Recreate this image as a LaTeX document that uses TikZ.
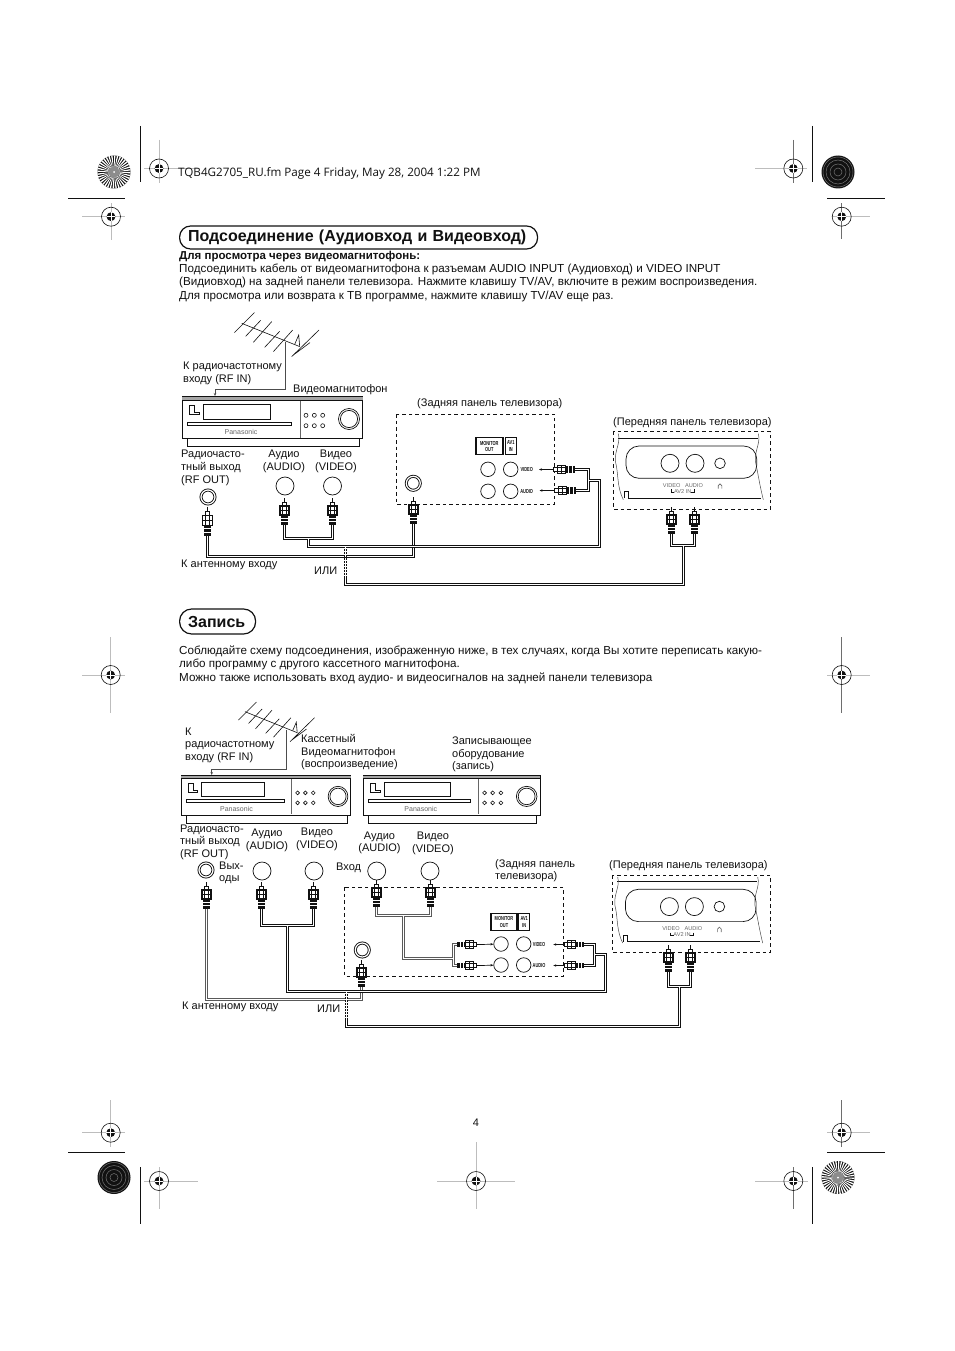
\documentclass[tikz,border=0pt]{standalone}
\usepackage{fontspec}
\setmainfont{Liberation Sans}
\newfontfamily\hdrfont{Open Sans}
\definecolor{cross}{HTML}{BDBDBD}
\definecolor{crossdk}{HTML}{6E6E6E}
\definecolor{ink}{HTML}{111111}
\definecolor{inksub}{HTML}{666666}
\usetikzlibrary{arrows.meta,positioning,calc}

\newcommand{\cond}[1]{\scalebox{.68}[1]{#1}}
\newcommand{\regmark}[7][cross]{%
  \draw[cross,line width=1pt] (#4,#3)--(#5,#3);
  \draw[#1,line width=1pt] (#2,#6)--(#2,#7);
  \draw[ink,line width=.6pt] (#2,#3) circle (9.5);
  \fill[ink] (#2,#3) circle (4.4);
  \draw[white,line width=.7pt] ($(#2,#3)+(-4.4,0)$)--($(#2,#3)+(4.4,0)$)
    ($(#2,#3)+(0,-4.4)$)--($(#2,#3)+(0,4.4)$);
}
\newcommand{\lightburst}[2]{%
  \fill[ink] (#1,#2) circle (16.5);
  \foreach \a in {0,10,...,350}
    \fill[white] (#1,#2)--++(\a:16.5)--($(#1,#2)+(\a+5:16.5)$)--cycle;
  \fill[black!45] (#1,#2) circle (5.5);
  \fill[white] (#1,#2) circle (1);
}
\newcommand{\darkburst}[2]{%
  \fill[ink] (#1,#2) circle (16.5);
  \foreach \r in {4,8,12,15}
    \draw[black!55,line width=.5pt] (#1,#2) circle (\r);
}

\tikzset{
  rcaplug/.pic={
    \coordinate (-tip) at (0,0);
    \coordinate (-end) at (0,27);
    \draw[ink,line width=1.3pt] (0,0)--(0,4);
    \draw[ink,line width=1pt,fill=white] (-2.2,4) rectangle (2.2,8);
    \draw[ink,line width=1.2pt,fill=white] (-4.5,8) rectangle (4.5,17);
    \draw[ink,line width=1pt] (-1.8,8)--(-1.8,17) (1.8,8)--(1.8,17) (-4.5,12.5)--(4.5,12.5);
    \fill[ink] (-3.5,17) rectangle (3.5,27);
    \draw[white,line width=.7pt] (-3.5,20)--(3.5,20) (-3.5,23.5)--(3.5,23.5);
  },
  vcrunit/.pic={
    \draw[ink,line width=.8pt] (0,0) rectangle (180.4,41.6);
    \fill[black!35] (0,.6) rectangle (180.4,3.6);
    \draw[ink,line width=.7pt] (0,4) -- (180.4,4);
    \draw[ink,line width=.8pt] (5,41.6) rectangle (177,50);
    \draw[black!60,line width=1pt] (117.7,4)--(117.7,41);
    \draw[ink,line width=.7pt] (21,7.6) rectangle (88.4,22.6);
    \draw[ink,line width=.7pt] (5,25.6) rectangle (109.4,29);
    \draw[ink,line width=.7pt] (7,9)--(7,18)--(17,18)--(17,15.5)--(12.5,15.5)--(12.5,9)--cycle;
    \foreach \cx in {123.7,132,140.4} \foreach \cy in {18.6,29}
      \draw[ink,line width=.6pt] (\cx,\cy) circle (2);
    \draw[ink,line width=.7pt] (166.7,22.3) circle (10.5) (166.7,22.3) circle (8.6);
    \node[inksub,inner sep=0pt,font=\fontsize{7}{8}\selectfont] (-brand) at (58.7,35) {Panasonic};
  },
  frontpanel/.pic={
    \draw[ink,line width=.8pt,dash pattern=on 3.5pt off 3pt] (0,0) rectangle (157.4,77.3);
    \draw[ink,line width=.7pt] (4.7,6.6)--(144.7,6.6) (15,66.6)--(147.4,66.6);
    \draw[ink,line width=.7pt] (15,66.6)--(15,60)--(11,60)--(11,66.6);
    \draw[black!70,line width=.5pt] (5,2) .. controls (8,12) and (-1,22) .. (3,34)
      .. controls (5,44) and (4,56) .. (10,68);
    \draw[black!70,line width=.5pt] (145,2) .. controls (148,12) and (139,22) .. (143,34)
      .. controls (145,44) and (147,56) .. (150,68);
    \draw[ink,line width=.7pt,rounded corners=13pt] (12.7,14.3) rectangle (143.4,46.6);
    \draw[ink,line width=.7pt] (56.7,31.6) circle (9) (81.7,31.6) circle (9) (106.7,31.6) circle (5.3);
    \node[inksub,inner sep=0pt,font=\fontsize{5.6}{6}\selectfont] (-vid) at (58.4,54) {VIDEO};
    \node[inksub,inner sep=0pt,font=\fontsize{5.6}{6}\selectfont] (-aud) at (80.7,54) {AUDIO};
    \node[inksub,inner sep=0pt,font=\fontsize{5.6}{6}\selectfont] (-av) at (69.4,60) {AV2 IN};
    \draw[ink,line width=.6pt] (57.5,57.5)--(57.5,60.5)--(61,60.5) (81,57.5)--(81,60.5)--(77.5,60.5);
    \draw[inksub,line width=.6pt] (104.9,57)--(104.9,54) .. controls (104.9,51.5) and (108.5,51.5) .. (108.5,54)--(108.5,57);
  },
  antenna/.pic={
    \draw[ink,line width=.6pt] (0,0)--(58,23.3);
    \draw[ink,line width=.6pt] (-7.3,9.3)--(12.7,-10.7) (4,13)--(19,-3) (11.7,19)--(30,-1.7)
      (23,24)--(38,8) (31.7,28.3)--(51,6.7) (50,33.3)--(77.3,6.7) (51.7,31.7)--(68.3,19.3);
    \draw[ink,line width=.6pt] (53,21)--(57,11.7)--(58,23.3);
  },
}

\begin{document}
\begin{tikzpicture}[x=1pt,y=-1pt,
    txt/.style={anchor=west,align=left,inner sep=0pt,text=ink,yshift=-.8pt,
      font=\fontsize{11.65}{13.3}\selectfont},
    lb/.style={anchor=west,align=left,inner sep=0pt,text=ink,yshift=-1.3pt,
      font=\fontsize{11}{12.6}\selectfont},
    lc/.style={align=center,inner sep=0pt,text=ink,yshift=-1.3pt,
      font=\fontsize{11}{12.6}\selectfont},
    ttl/.style={draw=ink,line width=1.2pt,rounded corners=11pt,anchor=west,align=left,
      minimum height=23pt,inner ysep=0pt,inner xsep=8.5pt,text=ink,
      font=\fontsize{16}{18}\selectfont\bfseries},
    jack/.style={circle,draw=ink,line width=.7pt,fill=white,minimum size=18pt,inner sep=0pt},
    jacksm/.style={circle,draw=ink,line width=.7pt,fill=white,minimum size=14.5pt,inner sep=0pt},
    jackrf/.style={circle,draw=ink,line width=.9pt,double=white,double distance=1.2pt,
      minimum size=14pt,inner sep=0pt},
    cable/.style={draw=ink,line width=1pt,double=white,double distance=1pt},
    cablegr/.style={draw=black!65,line width=1pt,double=white,double distance=1pt},
    cabledash/.style={cable,dash pattern=on 2pt off 1pt},
    feed/.style={-{Stealth[length=3pt,width=2.5pt]},black!70,line width=.9pt},
    tipar/.style={-{Stealth[length=3pt,width=2.4pt]},ink,line width=.7pt},
    sock/.style={draw=ink,line width=1.4pt,fill=white,inner sep=0pt,align=center,
      minimum height=17pt,text=ink,font=\fontsize{5.8}{6.4}\selectfont\bfseries},
    tag/.style={inner sep=0pt,text=ink,font=\fontsize{5.8}{6}\selectfont\bfseries},
    dashbox/.style={draw=ink,line width=.8pt,dash pattern=on 3.5pt off 3pt},
  ]
  \fill[white] (0,0) rectangle (954,1351);
  \useasboundingbox (0,0) rectangle (954,1351);

  % printer's marks
  \lightburst{114}{172}
  \darkburst{838}{172}
  \darkburst{114}{1177.5}
  \lightburst{838}{1177.5}
  \regmark{159}{168.5}{144}{198}{140}{183}
  \regmark{111}{216.7}{82}{125}{203}{240}
  \regmark[crossdk]{793.3}{168.5}{755}{807}{140}{183}
  \regmark[crossdk]{841.7}{216.7}{832}{870}{203}{239}
  \regmark{110.7}{675}{82}{125}{637}{713}
  \regmark[crossdk]{841.7}{675}{827}{870}{637}{713}
  \regmark{110.7}{1132.7}{82}{125}{1100}{1147}
  \regmark[crossdk]{841.7}{1132.7}{827}{870}{1100}{1147}
  \regmark{159}{1181}{144}{198}{1167}{1209}
  \regmark{476}{1181}{437}{515}{1142}{1209}
  \regmark[crossdk]{793.3}{1181}{755}{808}{1167}{1209}
  \draw[ink,line width=.8pt] (140,126)--(140,182) (68,198.3)--(125,198.3)
    (812.3,126)--(812.3,182) (827,198.3)--(885,198.3)
    (140,1167)--(140,1224) (68,1152.3)--(125,1152.3)
    (812.3,1167)--(812.3,1224) (827,1152.3)--(885,1152.3);

  \node[anchor=west,inner sep=0pt,text=ink,font=\hdrfont\fontsize{11.65}{13}\selectfont] (hdr) at (178,173.5)
    {TQB4G2705\_RU.fm Page 4 Friday, May 28, 2004 1:22 PM};
  \node[inner sep=0pt,text=ink,font=\fontsize{11}{13}\selectfont] (pageno) at (476,1123) {4};

  % first section
  \node[ttl,text width=341pt] (titleA) at (179,237.5)
    {Подсоединение (Аудиовход и Видеовход)};
  \node[txt,font=\fontsize{11.5}{13.3}\selectfont\bfseries] (introB) at (179,256)
    {Для просмотра через видеомагнитофонь:};
  \node[txt] (intro) at (179,282)
    {Подсоединить кабель от видеомагнитофона к разъемам AUDIO INPUT (Аудиовход) и VIDEO INPUT\\
     (Видиовход) на задней панели телевизора. Нажмите клавишу TV/AV, включите в режим воспроизведения.\\
     Для просмотра или возврата к ТВ программе, нажмите клавишу TV/AV еще раз.};

  \pic (antA) at (241.7,323.3) {antenna};
  \coordinate (mastA) at (285.7,342);
  \coordinate (turnA) at (215,389);
  \coordinate (rfinA) at (215,396);
  \draw[feed] (mastA) |- (turnA) -- (rfinA);
  \pic (vcrA) at (182.3,396.7) {vcrunit};

  \node[lb] (lbRfinA) at (183,372) {К радиочастотному\\входу (RF IN)};
  \node[lb] (lbVcrA) at (293,388) {Видеомагнитофон};
  \node[lb] (lbBackA) at (417,402) {(Задняя панель телевизора)};
  \node[lb] (lbFrontA) at (613,421) {(Передняя панель телевизора)};
  \node[lb] (lbRfoutA) at (181,466.5) {Радиочасто-\\тный выход\\(RF OUT)};
  \node[lc] (lbAudA) at (284,460) {Аудио\\(AUDIO)};
  \node[lc] (lbVidA) at (336,460) {Видео\\(VIDEO)};
  \node[lb] (lbAntA) at (181,564) {К антенному входу};
  \node[lb] (lbOrA) at (314,569) {ИЛИ};

  \node[jackrf] (jRfA) at (208,497) {};
  \node[jack] (jAudA) at (285,486) {};
  \node[jack] (jVidA) at (332.5,486) {};
  \pic[scale=1.1] (pRfA) at (207.5,506.7) {rcaplug};
  \pic (pAudA) at (284.5,498) {rcaplug};
  \pic (pVidA) at (332.5,498) {rcaplug};

  \draw[dashbox] (396.7,414) rectangle (554.7,504.3);
  \node[jackrf] (jAntA) at (413.3,483.3) {};
  \pic (pAntA) at (413.5,497) {rcaplug};
  \node[sock,minimum width=27pt] (sMonA) at (489.3,446.2) {\cond{MONITOR}\\\cond{OUT}};
  \node[sock,minimum width=11pt] (sAvA) at (510.8,446.2) {\cond{AV1}\\\cond{IN}};
  \node[jacksm] (jB1A) at (488,469.3) {};
  \node[jacksm] (jB2A) at (510.7,469.3) {};
  \node[jacksm] (jB3A) at (488,491.3) {};
  \node[jacksm] (jB4A) at (510.7,491.3) {};
  \node[tag] (tVidA) at (526.7,469.3) {\cond{VIDEO}};
  \node[tag] (tAudA) at (526.7,491.3) {\cond{AUDIO}};
  \coordinate (arVidA) at (539,469.5);
  \coordinate (arAudA) at (539.5,490.5);
  \pic[rotate=90,scale=.93] (pBvA) at (550,469.5) {rcaplug};
  \pic[rotate=90,scale=.93] (pBaA) at (551,490.5) {rcaplug};
  \draw[tipar] (pBvA-tip)--(arVidA);
  \draw[tipar] (pBaA-tip)--(arAudA);

  \pic (frontA) at (613.3,431.7) {frontpanel};
  \pic (pFvA) at (671.5,507) {rcaplug};
  \pic (pFaA) at (694.5,507) {rcaplug};

  % cables
  \coordinate (rfA) at (300.5,556.5);
  \coordinate (busA) at (308.5,538.5);
  \coordinate (retA) at (599.5,546.5);
  \coordinate (forkA) at (588.5,480.5);
  \coordinate (busFA) at (683.5,545.5);
  \coordinate (orA) at (345.5,584.5);
  \coordinate (orUpA) at (345.5,578);
  \coordinate (orTopA) at (345.5,546.5);
  \draw[cable] (pRfA-end) |- (rfA) -| (pAntA-end);
  \draw[cable] (pAudA-end) |- (busA) -| (pVidA-end)
    (busA) |- (retA) |- (forkA) (pBvA-end) -| (forkA) |- (pBaA-end);
  \draw[cable] (pFvA-end) |- (busFA) -| (pFaA-end)
    (busFA) |- (orA) -- (orUpA);
  \draw[cabledash] (orUpA)--(orTopA);

  % second section
  \node[ttl,text width=59pt,minimum height=25pt,rounded corners=12pt] (titleB) at (179,621.5)
    {Запись};
  \node[txt] (introC) at (179,664)
    {Соблюдайте схему подсоединения, изображенную ниже, в тех случаях, когда Вы хотите переписать какую-\\
     либо программу с другого кассетного магнитофона.\\
     Можно также использовать вход аудио- и видеосигналов на задней панели телевизора};

  \pic[scale=.9] (antB) at (245,711.7) {antenna};
  \coordinate (mastB) at (286.7,730);
  \coordinate (turnB) at (211.7,769);
  \coordinate (rfinB) at (211.7,775);
  \draw[feed] (mastB) |- (turnB) -- (rfinB);
  \pic[xscale=.94,yscale=.96] (vcrB) at (181.3,775) {vcrunit};
  \pic[xscale=.98,yscale=.96] (vcrC) at (363.3,775) {vcrunit};

  \node[lb] (lbRfinB) at (185,744) {К\\радиочастотному\\входу (RF IN)};
  \node[lb] (lbVcrB) at (301,751) {Кассетный\\Видеомагнитофон\\(воспроизведение)};
  \node[lb] (lbRec) at (452,753) {Записывающее\\оборудование\\(запись)};
  \node[lb] (lbRfoutB) at (180,841) {Радиочасто-\\тный выход\\(RF OUT)};
  \node[lc] (lbAudB) at (267,839) {Аудио\\(AUDIO)};
  \node[lc] (lbVidB) at (317,838) {Видео\\(VIDEO)};
  \node[lc] (lbAudC) at (379.5,841.5) {Аудио\\(AUDIO)};
  \node[lc] (lbVidC) at (433,842) {Видео\\(VIDEO)};
  \node[lb] (lbOut) at (219,871.5) {Вых-\\оды};
  \node[lb] (lbIn) at (336,867) {Вход};
  \node[lb] (lbBackB) at (495,869.5) {(Задняя панель\\телевизора)};
  \node[lb] (lbFrontB) at (609,864) {(Передняя панель телевизора)};
  \node[lb] (lbAntB) at (182,1006) {К антенному входу};
  \node[lb] (lbOrB) at (317,1007) {ИЛИ};

  \node[jackrf] (jRfB) at (206,870) {};
  \node[jack] (jAudB) at (262,871) {};
  \node[jack] (jVidB) at (314,871) {};
  \node[jack] (jAudC) at (376.7,871) {};
  \node[jack] (jVidC) at (430,871) {};
  \pic (pRfB) at (206.5,882) {rcaplug};
  \pic (pAudB) at (261.5,882) {rcaplug};
  \pic (pVidB) at (313.5,882) {rcaplug};

  \draw[dashbox] (344.3,887.3) rectangle (563.3,976);
  \pic (pAudC) at (376.5,880) {rcaplug};
  \pic (pVidC) at (430.5,880) {rcaplug};
  \node[jackrf] (jAntB) at (362.3,950) {};
  \pic (pAntB) at (361.5,960) {rcaplug};
  \node[sock,minimum width=26pt] (sMonB) at (504,922) {\cond{MONITOR}\\\cond{OUT}};
  \node[sock,minimum width=11pt] (sAvB) at (524.2,922) {\cond{AV1}\\\cond{IN}};
  \node[jacksm] (jB1B) at (501,944) {};
  \node[jacksm] (jB2B) at (523.7,944) {};
  \node[jacksm] (jB3B) at (501,965) {};
  \node[jacksm] (jB4B) at (523.7,965) {};
  \node[tag] (tVidB) at (539,944) {\cond{VIDEO}};
  \node[tag] (tAudB) at (539,965) {\cond{AUDIO}};
  \pic[rotate=-90,scale=.85] (pLvB) at (480,944.5) {rcaplug};
  \pic[rotate=-90,scale=.85] (pLaB) at (480,965.5) {rcaplug};
  \draw[tipar] (pLvB-tip)--(jB1B);
  \draw[tipar] (pLaB-tip)--(jB3B);
  \coordinate (arVidB) at (553.3,944.5);
  \coordinate (arAudB) at (553.3,965.5);
  \pic[rotate=90,scale=.85] (pRvB) at (561,944.5) {rcaplug};
  \pic[rotate=90,scale=.85] (pRaB) at (561,965.5) {rcaplug};
  \draw[tipar] (pRvB-tip)--(arVidB);
  \draw[tipar] (pRaB-tip)--(arAudB);

  \pic (frontB) at (612.7,875) {frontpanel};
  \pic (pFvB) at (668.5,945) {rcaplug};
  \pic (pFaB) at (690.5,945) {rcaplug};

  % cables
  \coordinate (rfB) at (300.5,999.5);
  \coordinate (busB) at (287.5,925.5);
  \coordinate (retB) at (605.5,991.5);
  \coordinate (forkB) at (594.5,954.5);
  \coordinate (busC) at (403.5,915.5);
  \coordinate (forkC) at (453.5,958.5);
  \coordinate (busFB) at (679.5,986.5);
  \coordinate (orB) at (346.5,1026.5);
  \coordinate (orUpB) at (346.5,1020);
  \coordinate (orTopB) at (346.5,992);
  \draw[cablegr] (pRfB-end) |- (rfB) -| (pAntB-end);
  \draw[cable] (pAudB-end) |- (busB) -| (pVidB-end)
    (busB) |- (retB) |- (forkB) (pRvB-end) -| (forkB) |- (pRaB-end);
  \draw[cablegr] (pAudC-end) |- (busC) -| (pVidC-end)
    (busC) |- (forkC) (pLvB-end) -| (forkC) |- (pLaB-end);
  \draw[cable] (pFvB-end) |- (busFB) -| (pFaB-end)
    (busFB) |- (orB) -- (orUpB);
  \draw[cabledash] (orUpB)--(orTopB);
\end{tikzpicture}
\end{document}
